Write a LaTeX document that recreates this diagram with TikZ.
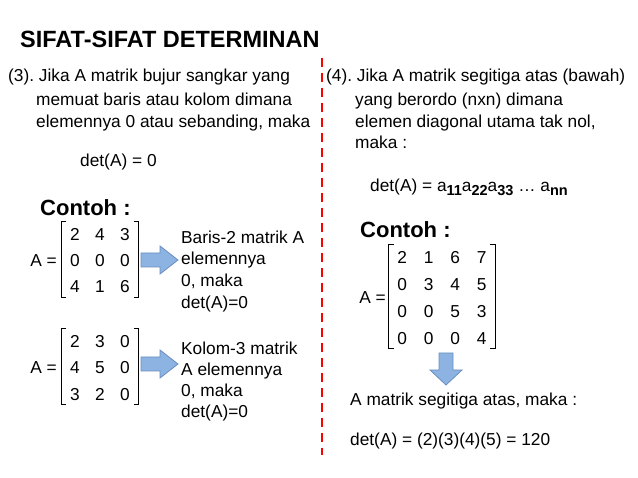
\documentclass[tikz,border=0pt]{standalone}
\usepackage{fontspec}
\setmainfont{Liberation Sans}
\frenchspacing
\usetikzlibrary{matrix}
\begin{document}
\begin{tikzpicture}[x=1pt,y=-1pt,
  txt/.style={anchor=base west,inner sep=0pt,font=\fontsize{17.3}{20}\selectfont},
  hd/.style={anchor=base west,inner sep=0pt,font=\fontsize{22}{25}\selectfont\bfseries},
  arr/.style={fill=arrfill,draw=arrline,line width=0.8pt},
  brk/.style={line width=0.8pt},
  mat/.style={matrix of nodes,
    nodes={font=\fontsize{17.3}{20}\selectfont,inner sep=0pt,minimum width=25pt,minimum height=26pt},
    inner sep=1pt}]
\definecolor{arrfill}{HTML}{8DB3E2}
\definecolor{arrline}{HTML}{6A8FC0}
\useasboundingbox (0,0) rectangle (638,478);
\node[anchor=base west,inner sep=0pt,font=\fontsize{23.5}{28}\selectfont\bfseries] (title) at (20,48) {SIFAT-SIFAT DETERMINAN};
\draw[red,line width=1.6pt,dash pattern=on 9pt off 6pt] (322,58) coordinate (l1) -- (322,455) coordinate (l2);
% left
\node[txt] (a1) at (8,82) {(3). Jika A matrik bujur sangkar yang};
\node[txt] (a2) at (36,106) {memuat baris atau kolom dimana};
\node[txt] (a3) at (36,128) {elemennya 0 atau sebanding, maka};
\node[txt] (a4) at (80,167) {det(A) = 0};
\node[hd] (c1) at (40,216) {Contoh :};
\matrix[mat] (m1) at (100,261) {2&4&3\\0&0&0\\4&1&6\\};
\draw[brk] (m1.north west)++(5,1) -- ++(-5,0) -- ++(0,76) -- ++(5,0);
\draw[brk] (m1.north east)++(-5,1) -- ++(5,0) -- ++(0,76) -- ++(-5,0);
\node[txt,anchor=east] (A1) at (57,261) {A =};
\matrix[mat] (m2) at (100,368) {2&3&0\\4&5&0\\3&2&0\\};
\draw[brk] (m2.north west)++(5,1) -- ++(-5,0) -- ++(0,76) -- ++(5,0);
\draw[brk] (m2.north east)++(-5,1) -- ++(5,0) -- ++(0,76) -- ++(-5,0);
\node[txt,anchor=east] (A2) at (57,368) {A =};
\draw[arr] (141,253)--(160,253)--(160,246)--(178,260)--(160,274)--(160,267)--(141,267)--cycle;
\draw[arr] (141,357)--(160,357)--(160,350)--(178,364)--(160,378)--(160,371)--(141,371)--cycle;
\node[txt] (b1) at (181,244) {Baris-2 matrik A};
\node[txt] (b2) at (181,265) {elemennya};
\node[txt] (b3) at (181,287) {0, maka};
\node[txt] (b4) at (181,309) {det(A)=0};
\node[txt] (k1) at (181,355) {Kolom-3 matrik};
\node[txt] (k2) at (181,376) {A elemennya};
\node[txt] (k3) at (181,397) {0, maka};
\node[txt] (k4) at (181,418) {det(A)=0};
% right
\node[txt] (r1) at (326,82) {(4). Jika A matrik segitiga atas (bawah)};
\node[txt] (r2) at (355,106) {yang berordo (nxn) dimana};
\node[txt] (r3) at (355,128) {elemen diagonal utama tak nol,};
\node[txt] (r4) at (355,149) {maka :};
\node[txt] (r5) at (370,192) {det(A) = a\raisebox{-4pt}{\fontsize{14.5}{16}\selectfont\bfseries 11}a\raisebox{-4pt}{\fontsize{14.5}{16}\selectfont\bfseries 22}a\raisebox{-4pt}{\fontsize{14.5}{16}\selectfont\bfseries 33} … a\raisebox{-4pt}{\fontsize{14.5}{16}\selectfont\bfseries nn}};
\node[hd] (c2) at (360,238) {Contoh :};
\matrix[mat,nodes={minimum width=26.5pt,minimum height=27pt}] (m3) at (442,298) {2&1&6&7\\0&3&4&5\\0&0&5&3\\0&0&0&4\\};
\draw[brk] (m3.north west)++(6,2) -- ++(-5,0) -- ++(0,104) -- ++(5,0);
\draw[brk] (m3.north east)++(-6,2) -- ++(5,0) -- ++(0,104) -- ++(-5,0);
\node[txt,anchor=east] (A3) at (386,298) {A =};
\draw[arr] (439,353)--(453,353)--(453,370)--(462,370)--(446,385)--(430,370)--(439,370)--cycle;
\node[txt] (r6) at (350,406) {A matrik segitiga atas, maka :};
\node[txt] (r7) at (350,446) {det(A) = (2)(3)(4)(5) = 120};
\end{tikzpicture}
\end{document}
